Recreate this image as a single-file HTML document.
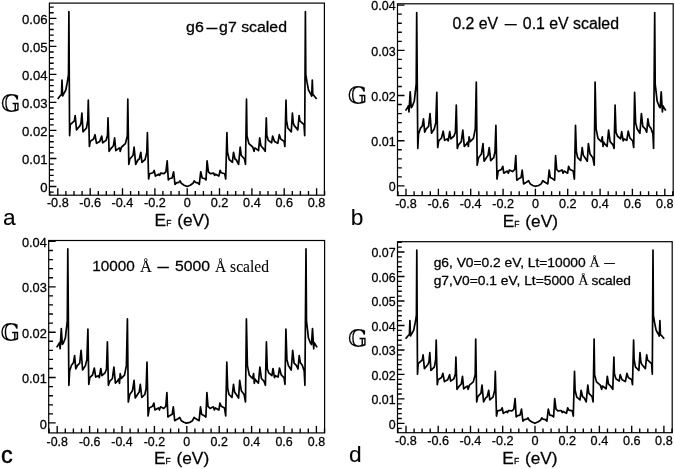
<!DOCTYPE html>
<html><head><meta charset="utf-8"><title>figure</title>
<style>html,body{margin:0;padding:0;background:#fff}body{width:675px;height:469px;position:relative;overflow:hidden}</style></head>
<body>
<svg width="675" height="469" viewBox="0 0 675 469" style="position:absolute;left:0;top:0">
<rect width="675" height="469" fill="#fff"/>
<style>text{stroke:#000;stroke-width:0.28px;stroke-linejoin:round}text.sf,tspan.sf{stroke-width:0.08px}text.pl{stroke-width:0.1px}text.pc{stroke-width:0.5px}</style>
<g id="panel-a">
<rect x="49.4" y="3.1" width="275.0" height="192.1" fill="none" stroke="#000" stroke-width="1.2"/>
<path d="M49.8 195.2v-4.3 M57.8 195.2v-6.9 M65.9 195.2v-4.3 M74.0 195.2v-4.3 M82.1 195.2v-4.3 M90.2 195.2v-6.9 M98.3 195.2v-4.3 M106.3 195.2v-4.3 M114.4 195.2v-4.3 M122.5 195.2v-6.9 M130.6 195.2v-4.3 M138.7 195.2v-4.3 M146.8 195.2v-4.3 M154.9 195.2v-6.9 M162.9 195.2v-4.3 M171.0 195.2v-4.3 M179.1 195.2v-4.3 M187.2 195.2v-6.9 M195.3 195.2v-4.3 M203.4 195.2v-4.3 M211.5 195.2v-4.3 M219.5 195.2v-6.9 M227.6 195.2v-4.3 M235.7 195.2v-4.3 M243.8 195.2v-4.3 M251.9 195.2v-6.9 M260.0 195.2v-4.3 M268.0 195.2v-4.3 M276.1 195.2v-4.3 M284.2 195.2v-6.9 M292.3 195.2v-4.3 M300.4 195.2v-4.3 M308.5 195.2v-4.3 M316.6 195.2v-6.9 M324.6 195.2v-4.3 M49.4 192.1h4.3 M49.4 186.5h7.0 M49.4 180.9h4.3 M49.4 175.3h4.3 M49.4 169.7h4.3 M49.4 164.1h4.3 M49.4 158.5h7.0 M49.4 152.9h4.3 M49.4 147.3h4.3 M49.4 141.7h4.3 M49.4 136.0h4.3 M49.4 130.4h7.0 M49.4 124.8h4.3 M49.4 119.2h4.3 M49.4 113.6h4.3 M49.4 108.0h4.3 M49.4 102.4h7.0 M49.4 96.8h4.3 M49.4 91.2h4.3 M49.4 85.6h4.3 M49.4 80.0h4.3 M49.4 74.4h7.0 M49.4 68.8h4.3 M49.4 63.2h4.3 M49.4 57.6h4.3 M49.4 52.0h4.3 M49.4 46.3h7.0 M49.4 40.7h4.3 M49.4 35.1h4.3 M49.4 29.5h4.3 M49.4 23.9h4.3 M49.4 18.3h7.0 M49.4 12.7h4.3 M49.4 7.1h4.3" stroke="#000" stroke-width="1.35" fill="none"/>
<polyline points="57.7,98.9 60.6,95.2 61.5,94.7 62.0,80.1 62.6,96.0 63.4,94.4 64.0,93.4 65.8,90.0 67.3,82.2 68.5,74.6 68.9,11.7 69.6,135.6 70.3,124.6 74.4,120.8 75.2,115.5 76.5,129.9 80.0,125.6 81.0,123.2 81.9,113.1 83.0,131.8 86.5,128.0 87.8,120.2 88.3,100.2 89.4,146.5 90.2,141.4 93.6,139.0 95.0,134.7 96.5,143.3 99.8,141.4 101.7,136.1 102.7,142.8 106.0,140.4 107.5,135.2 108.0,117.9 109.1,151.4 110.9,148.6 113.4,145.8 114.6,137.9 115.8,150.7 118.7,148.4 119.7,148.0 120.2,151.3 121.6,147.0 125.4,143.6 127.3,136.0 127.8,99.2 128.8,164.3 129.8,159.0 133.1,155.2 134.1,147.0 135.7,164.3 137.9,160.0 139.3,159.0 140.8,152.3 141.9,162.3 145.1,159.5 146.8,152.2 147.4,132.7 148.6,179.0 149.6,173.7 153.0,172.8 154.2,170.4 155.4,176.1 158.7,174.2 159.7,175.3 160.6,173.2 164.0,173.7 165.9,171.8 167.2,160.8 168.3,180.0 169.8,178.5 172.1,178.0 173.6,171.8 175.0,184.3 176.5,182.8 178.9,182.3 180.1,180.9 181.3,183.3 184.1,185.2 187.0,186.5 190.2,185.2 193.0,183.3 194.2,180.9 195.4,182.3 197.8,182.8 199.3,184.3 200.7,171.8 202.2,178.0 204.5,178.5 206.0,180.0 207.1,160.8 208.4,171.8 210.3,173.7 213.7,173.2 214.6,175.3 215.6,174.2 218.9,176.1 220.1,170.4 221.3,172.8 224.7,173.7 225.7,179.0 226.9,132.7 227.5,152.2 229.2,159.5 232.4,162.3 233.5,152.3 235.0,159.0 236.4,160.0 238.6,164.3 240.2,147.0 241.2,155.2 244.5,159.0 245.5,164.3 246.5,99.2 247.0,136.0 248.9,143.6 252.7,147.0 254.1,151.3 254.6,148.0 255.6,148.4 258.5,150.7 259.7,137.9 260.9,145.8 263.4,148.6 265.2,151.4 266.3,117.9 266.8,135.2 268.3,140.4 271.6,142.8 272.6,136.1 274.5,141.4 277.8,143.3 279.3,134.7 280.7,139.0 284.1,141.4 284.9,146.5 286.0,100.2 286.5,120.2 287.8,128.0 291.3,131.8 292.4,113.1 293.3,123.2 294.3,125.6 297.8,129.9 299.1,115.5 299.9,120.8 304.0,124.6 304.7,135.6 305.4,11.7 305.8,74.6 307.0,82.2 308.5,90.0 310.3,93.4 310.9,94.4 311.7,96.0 312.3,80.1 312.8,94.7 313.7,95.2 316.6,98.9" fill="none" stroke="#000" stroke-width="1.7" stroke-linejoin="round" stroke-linecap="butt"/>
<text transform="translate(57.8 207.1) scale(0.99 1)" font-size="12.8" text-anchor="middle" font-family="Liberation Sans, Arial, Helvetica, sans-serif">-0.8</text>
<text transform="translate(90.2 207.1) scale(0.99 1)" font-size="12.8" text-anchor="middle" font-family="Liberation Sans, Arial, Helvetica, sans-serif">-0.6</text>
<text transform="translate(122.5 207.1) scale(0.99 1)" font-size="12.8" text-anchor="middle" font-family="Liberation Sans, Arial, Helvetica, sans-serif">-0.4</text>
<text transform="translate(154.9 207.1) scale(0.99 1)" font-size="12.8" text-anchor="middle" font-family="Liberation Sans, Arial, Helvetica, sans-serif">-0.2</text>
<text transform="translate(187.2 207.1) scale(0.99 1)" font-size="12.8" text-anchor="middle" font-family="Liberation Sans, Arial, Helvetica, sans-serif">0</text>
<text transform="translate(219.5 207.1) scale(0.99 1)" font-size="12.8" text-anchor="middle" font-family="Liberation Sans, Arial, Helvetica, sans-serif">0.2</text>
<text transform="translate(251.9 207.1) scale(0.99 1)" font-size="12.8" text-anchor="middle" font-family="Liberation Sans, Arial, Helvetica, sans-serif">0.4</text>
<text transform="translate(284.2 207.1) scale(0.99 1)" font-size="12.8" text-anchor="middle" font-family="Liberation Sans, Arial, Helvetica, sans-serif">0.6</text>
<text transform="translate(316.6 207.1) scale(0.99 1)" font-size="12.8" text-anchor="middle" font-family="Liberation Sans, Arial, Helvetica, sans-serif">0.8</text>
<text transform="translate(47.5 191.7) scale(1.025 1)" font-size="12.8" text-anchor="end" font-family="Liberation Sans, Arial, Helvetica, sans-serif">0</text>
<text transform="translate(47.5 163.7) scale(1.025 1)" font-size="12.8" text-anchor="end" font-family="Liberation Sans, Arial, Helvetica, sans-serif">0.01</text>
<text transform="translate(47.5 135.6) scale(1.025 1)" font-size="12.8" text-anchor="end" font-family="Liberation Sans, Arial, Helvetica, sans-serif">0.02</text>
<text transform="translate(47.5 107.6) scale(1.025 1)" font-size="12.8" text-anchor="end" font-family="Liberation Sans, Arial, Helvetica, sans-serif">0.03</text>
<text transform="translate(47.5 79.6) scale(1.025 1)" font-size="12.8" text-anchor="end" font-family="Liberation Sans, Arial, Helvetica, sans-serif">0.04</text>
<text transform="translate(47.5 51.5) scale(1.025 1)" font-size="12.8" text-anchor="end" font-family="Liberation Sans, Arial, Helvetica, sans-serif">0.05</text>
<text transform="translate(47.5 23.5) scale(1.025 1)" font-size="12.8" text-anchor="end" font-family="Liberation Sans, Arial, Helvetica, sans-serif">0.06</text>
<text x="154.6" y="226.4" font-size="17.3" font-family="Liberation Sans, Arial, Helvetica, sans-serif">E</text>
<text x="166.2" y="226.4" font-size="8.6" font-family="Liberation Sans, Arial, Helvetica, sans-serif">F</text>
<text x="177.2" y="226.4" font-size="17.3" font-family="Liberation Sans, Arial, Helvetica, sans-serif">(eV)</text>
<text transform="translate(0.0 112.1) scale(0.97 1)" font-size="23.6" class="sf" font-family="DejaVu Math TeX Gyre, DejaVu Serif, DejaVu Sans, serif">𝔾</text>
<text x="3.0" y="224.6" font-size="22.7" class="pl" font-family="Liberation Sans, Arial, Helvetica, sans-serif">a</text>
</g>
<g id="panel-b">
<rect x="397.5" y="3.8" width="275.7" height="191.8" fill="none" stroke="#000" stroke-width="1.2"/>
<path d="M398.0 195.6v-4.3 M406.0 195.6v-6.9 M414.1 195.6v-4.3 M422.2 195.6v-4.3 M430.3 195.6v-4.3 M438.4 195.6v-6.9 M446.5 195.6v-4.3 M454.5 195.6v-4.3 M462.6 195.6v-4.3 M470.7 195.6v-6.9 M478.8 195.6v-4.3 M486.9 195.6v-4.3 M495.0 195.6v-4.3 M503.1 195.6v-6.9 M511.1 195.6v-4.3 M519.2 195.6v-4.3 M527.3 195.6v-4.3 M535.4 195.6v-6.9 M543.5 195.6v-4.3 M551.6 195.6v-4.3 M559.7 195.6v-4.3 M567.7 195.6v-6.9 M575.8 195.6v-4.3 M583.9 195.6v-4.3 M592.0 195.6v-4.3 M600.1 195.6v-6.9 M608.2 195.6v-4.3 M616.2 195.6v-4.3 M624.3 195.6v-4.3 M632.4 195.6v-6.9 M640.5 195.6v-4.3 M648.6 195.6v-4.3 M656.7 195.6v-4.3 M664.8 195.6v-6.9 M672.8 195.6v-4.3 M397.5 185.9h7.0 M397.5 176.9h4.3 M397.5 167.8h4.3 M397.5 158.8h4.3 M397.5 149.7h4.3 M397.5 140.7h7.0 M397.5 131.7h4.3 M397.5 122.6h4.3 M397.5 113.6h4.3 M397.5 104.5h4.3 M397.5 95.5h7.0 M397.5 86.5h4.3 M397.5 77.4h4.3 M397.5 68.4h4.3 M397.5 59.3h4.3 M397.5 50.3h7.0 M397.5 41.3h4.3 M397.5 32.2h4.3 M397.5 23.2h4.3 M397.5 14.1h4.3 M397.5 5.1h7.0" stroke="#000" stroke-width="1.35" fill="none"/>
<polyline points="405.6,110.6 407.4,107.7 408.5,105.8 409.0,112.0 410.2,91.8 411.2,107.7 412.3,106.2 414.3,101.0 415.2,92.8 416.2,84.2 416.7,12.5 417.8,148.5 418.5,134.1 420.4,128.4 422.3,126.0 423.5,118.8 424.7,132.2 426.2,128.8 428.6,126.4 430.0,113.5 431.5,133.2 434.3,128.8 435.8,122.6 436.8,92.3 437.7,147.5 438.7,140.8 441.5,138.0 443.2,131.2 444.6,140.3 447.3,138.9 448.2,140.8 449.7,131.7 450.8,138.9 454.0,136.0 455.4,132.2 456.3,105.1 457.3,148.5 458.6,144.6 461.3,141.7 462.8,130.2 464.3,146.3 466.7,143.8 467.6,142.2 468.4,146.5 469.1,136.9 470.2,141.7 473.4,138.4 475.3,128.8 476.3,82.1 477.2,165.2 478.6,157.7 481.4,153.9 483.0,143.6 484.1,161.2 486.7,157.2 488.1,155.2 489.2,147.5 490.7,160.7 493.7,157.7 495.0,151.8 495.9,125.4 497.0,179.1 498.2,171.1 501.4,169.5 502.8,166.3 503.8,173.2 507.3,171.1 508.3,173.2 509.4,170.0 512.6,171.6 514.7,169.5 515.8,155.7 516.8,180.2 519.0,178.6 521.1,177.5 522.2,170.0 523.6,183.9 526.4,182.3 528.6,180.7 530.2,183.9 532.8,185.5 535.2,186.3 538.6,185.5 541.2,183.9 542.8,180.7 545.0,182.3 547.8,183.9 549.2,170.0 550.3,177.5 552.4,178.6 554.6,180.2 555.6,155.7 556.7,169.5 558.8,171.6 562.0,170.0 563.1,173.2 564.1,171.1 567.6,173.2 568.6,166.3 570.0,169.5 573.2,171.1 574.4,179.1 575.5,125.4 576.4,151.8 577.7,157.7 580.7,160.7 582.2,147.5 583.3,155.2 584.7,157.2 587.3,161.2 588.4,143.6 590.0,153.9 592.8,157.7 594.2,165.2 595.1,82.1 596.1,128.8 598.0,138.4 601.2,141.7 602.3,136.9 603.0,146.5 603.8,142.2 604.7,143.8 607.1,146.3 608.6,130.2 610.1,141.7 612.8,144.6 614.1,148.5 615.1,105.1 616.0,132.2 617.4,136.0 620.6,138.9 621.7,131.7 623.2,140.8 624.1,138.9 626.8,140.3 628.2,131.2 629.9,138.0 632.7,140.8 633.7,147.5 634.6,92.3 635.6,122.6 637.1,128.8 639.9,133.2 641.4,113.5 642.8,126.4 645.2,128.8 646.7,132.2 647.9,118.8 649.1,126.0 651.0,128.4 652.9,134.1 653.6,148.5 654.7,12.5 655.2,84.2 656.2,92.8 657.1,101.0 659.1,106.2 660.2,107.7 661.2,91.8 662.4,112.0 662.9,105.8 664.0,107.7 665.8,110.6" fill="none" stroke="#000" stroke-width="1.7" stroke-linejoin="round" stroke-linecap="butt"/>
<text transform="translate(406.0 208.2) scale(0.985 1)" font-size="12.8" text-anchor="middle" font-family="Liberation Sans, Arial, Helvetica, sans-serif">-0.8</text>
<text transform="translate(438.4 208.2) scale(0.985 1)" font-size="12.8" text-anchor="middle" font-family="Liberation Sans, Arial, Helvetica, sans-serif">-0.6</text>
<text transform="translate(470.7 208.2) scale(0.985 1)" font-size="12.8" text-anchor="middle" font-family="Liberation Sans, Arial, Helvetica, sans-serif">-0.4</text>
<text transform="translate(503.1 208.2) scale(0.985 1)" font-size="12.8" text-anchor="middle" font-family="Liberation Sans, Arial, Helvetica, sans-serif">-0.2</text>
<text transform="translate(535.4 208.2) scale(0.985 1)" font-size="12.8" text-anchor="middle" font-family="Liberation Sans, Arial, Helvetica, sans-serif">0</text>
<text transform="translate(567.7 208.2) scale(0.985 1)" font-size="12.8" text-anchor="middle" font-family="Liberation Sans, Arial, Helvetica, sans-serif">0.2</text>
<text transform="translate(600.1 208.2) scale(0.985 1)" font-size="12.8" text-anchor="middle" font-family="Liberation Sans, Arial, Helvetica, sans-serif">0.4</text>
<text transform="translate(632.4 208.2) scale(0.985 1)" font-size="12.8" text-anchor="middle" font-family="Liberation Sans, Arial, Helvetica, sans-serif">0.6</text>
<text transform="translate(664.8 208.2) scale(0.985 1)" font-size="12.8" text-anchor="middle" font-family="Liberation Sans, Arial, Helvetica, sans-serif">0.8</text>
<text transform="translate(395.6 191.2) scale(0.975 1)" font-size="12.8" text-anchor="end" font-family="Liberation Sans, Arial, Helvetica, sans-serif">0</text>
<text transform="translate(395.6 146.0) scale(0.975 1)" font-size="12.8" text-anchor="end" font-family="Liberation Sans, Arial, Helvetica, sans-serif">0.01</text>
<text transform="translate(395.6 100.8) scale(0.975 1)" font-size="12.8" text-anchor="end" font-family="Liberation Sans, Arial, Helvetica, sans-serif">0.02</text>
<text transform="translate(395.6 55.6) scale(0.975 1)" font-size="12.8" text-anchor="end" font-family="Liberation Sans, Arial, Helvetica, sans-serif">0.03</text>
<text transform="translate(395.6 10.4) scale(0.975 1)" font-size="12.8" text-anchor="end" font-family="Liberation Sans, Arial, Helvetica, sans-serif">0.04</text>
<text x="502.7" y="226.8" font-size="17.3" font-family="Liberation Sans, Arial, Helvetica, sans-serif">E</text>
<text x="514.3" y="226.8" font-size="8.6" font-family="Liberation Sans, Arial, Helvetica, sans-serif">F</text>
<text x="525.3" y="226.8" font-size="17.3" font-family="Liberation Sans, Arial, Helvetica, sans-serif">(eV)</text>
<text transform="translate(346.7 103.7) scale(0.97 1)" font-size="23.6" class="sf" font-family="DejaVu Math TeX Gyre, DejaVu Serif, DejaVu Sans, serif">𝔾</text>
<text x="350.7" y="225.2" font-size="22.7" class="pl" font-family="Liberation Sans, Arial, Helvetica, sans-serif">b</text>
</g>
<g id="panel-c">
<rect x="48.7" y="240.5" width="275.9" height="192.4" fill="none" stroke="#000" stroke-width="1.2"/>
<path d="M49.1 432.9v-4.3 M57.2 432.9v-6.9 M65.3 432.9v-4.3 M73.4 432.9v-4.3 M81.5 432.9v-4.3 M89.6 432.9v-6.9 M97.7 432.9v-4.3 M105.8 432.9v-4.3 M113.9 432.9v-4.3 M122.0 432.9v-6.9 M130.1 432.9v-4.3 M138.2 432.9v-4.3 M146.3 432.9v-4.3 M154.4 432.9v-6.9 M162.5 432.9v-4.3 M170.6 432.9v-4.3 M178.7 432.9v-4.3 M186.8 432.9v-6.9 M194.9 432.9v-4.3 M203.0 432.9v-4.3 M211.1 432.9v-4.3 M219.2 432.9v-6.9 M227.3 432.9v-4.3 M235.4 432.9v-4.3 M243.5 432.9v-4.3 M251.6 432.9v-6.9 M259.7 432.9v-4.3 M267.8 432.9v-4.3 M275.9 432.9v-4.3 M284.0 432.9v-6.9 M292.1 432.9v-4.3 M300.2 432.9v-4.3 M308.3 432.9v-4.3 M316.4 432.9v-6.9 M324.5 432.9v-4.3 M48.7 422.9h7.0 M48.7 413.8h4.3 M48.7 404.8h4.3 M48.7 395.7h4.3 M48.7 386.6h4.3 M48.7 377.5h7.0 M48.7 368.5h4.3 M48.7 359.4h4.3 M48.7 350.3h4.3 M48.7 341.2h4.3 M48.7 332.2h7.0 M48.7 323.1h4.3 M48.7 314.0h4.3 M48.7 304.9h4.3 M48.7 295.9h4.3 M48.7 286.8h7.0 M48.7 277.7h4.3 M48.7 268.6h4.3 M48.7 259.6h4.3 M48.7 250.5h4.3 M48.7 241.4h7.0" stroke="#000" stroke-width="1.35" fill="none"/>
<polyline points="56.7,347.4 58.5,344.5 59.6,342.6 60.1,348.8 61.3,328.6 62.3,344.5 63.4,343.0 65.4,337.8 66.3,329.6 67.3,321.0 67.8,248.9 68.9,385.3 69.6,370.9 71.5,365.2 73.4,362.8 74.6,355.6 75.8,369.0 77.3,365.6 79.7,363.2 81.1,350.3 82.6,370.0 85.4,365.6 86.9,359.4 87.9,329.1 88.8,384.3 89.8,377.6 92.6,374.8 94.3,368.0 95.7,377.1 98.4,375.7 99.3,377.6 100.8,368.5 101.9,375.7 105.1,372.8 106.5,369.0 107.4,341.9 108.4,385.3 109.7,381.4 112.4,378.5 113.9,367.0 115.4,383.1 117.8,380.6 118.7,379.0 119.5,383.3 120.2,373.7 121.3,378.5 124.5,375.2 126.4,365.6 127.4,318.9 128.3,402.0 129.7,394.5 132.5,390.7 134.1,380.4 135.2,398.0 137.8,394.0 139.2,392.0 140.3,384.3 141.8,397.5 144.8,394.5 146.1,388.6 147.0,362.2 148.1,415.9 149.3,407.9 152.5,406.3 153.9,403.1 154.9,410.0 158.4,407.9 159.4,410.0 160.5,406.8 163.7,408.4 165.8,406.3 166.9,392.5 167.9,417.0 170.1,415.4 172.2,414.3 173.3,406.8 174.7,420.7 177.5,419.1 179.7,417.5 181.3,420.7 183.9,422.3 186.3,423.1 189.9,422.3 192.5,420.7 194.1,417.5 196.3,419.1 199.1,420.7 200.5,406.8 201.6,414.3 203.7,415.4 205.9,417.0 206.9,392.5 208.0,406.3 210.1,408.4 213.3,406.8 214.4,410.0 215.4,407.9 218.9,410.0 219.9,403.1 221.3,406.3 224.5,407.9 225.7,415.9 226.8,362.2 227.7,388.6 229.0,394.5 232.0,397.5 233.5,384.3 234.6,392.0 236.0,394.0 238.6,398.0 239.7,380.4 241.3,390.7 244.1,394.5 245.5,402.0 246.4,318.9 247.4,365.6 249.3,375.2 252.5,378.5 253.6,373.7 254.3,383.3 255.1,379.0 256.0,380.6 258.4,383.1 259.9,367.0 261.4,378.5 264.1,381.4 265.4,385.3 266.4,341.9 267.3,369.0 268.7,372.8 271.9,375.7 273.0,368.5 274.5,377.6 275.4,375.7 278.1,377.1 279.5,368.0 281.2,374.8 284.0,377.6 285.0,384.3 285.9,329.1 286.9,359.4 288.4,365.6 291.2,370.0 292.7,350.3 294.1,363.2 296.5,365.6 298.0,369.0 299.2,355.6 300.4,362.8 302.3,365.2 304.2,370.9 304.9,385.3 306.0,248.9 306.5,321.0 307.5,329.6 308.4,337.8 310.4,343.0 311.5,344.5 312.5,328.6 313.7,348.8 314.2,342.6 315.3,344.5 317.1,347.4" fill="none" stroke="#000" stroke-width="1.7" stroke-linejoin="round" stroke-linecap="butt"/>
<text transform="translate(57.2 445.8) scale(0.97 1)" font-size="12.8" text-anchor="middle" font-family="Liberation Sans, Arial, Helvetica, sans-serif">-0.8</text>
<text transform="translate(89.6 445.8) scale(0.97 1)" font-size="12.8" text-anchor="middle" font-family="Liberation Sans, Arial, Helvetica, sans-serif">-0.6</text>
<text transform="translate(122.0 445.8) scale(0.97 1)" font-size="12.8" text-anchor="middle" font-family="Liberation Sans, Arial, Helvetica, sans-serif">-0.4</text>
<text transform="translate(154.4 445.8) scale(0.97 1)" font-size="12.8" text-anchor="middle" font-family="Liberation Sans, Arial, Helvetica, sans-serif">-0.2</text>
<text transform="translate(186.8 445.8) scale(0.97 1)" font-size="12.8" text-anchor="middle" font-family="Liberation Sans, Arial, Helvetica, sans-serif">0</text>
<text transform="translate(219.2 445.8) scale(0.97 1)" font-size="12.8" text-anchor="middle" font-family="Liberation Sans, Arial, Helvetica, sans-serif">0.2</text>
<text transform="translate(251.6 445.8) scale(0.97 1)" font-size="12.8" text-anchor="middle" font-family="Liberation Sans, Arial, Helvetica, sans-serif">0.4</text>
<text transform="translate(284.0 445.8) scale(0.97 1)" font-size="12.8" text-anchor="middle" font-family="Liberation Sans, Arial, Helvetica, sans-serif">0.6</text>
<text transform="translate(316.4 445.8) scale(0.97 1)" font-size="12.8" text-anchor="middle" font-family="Liberation Sans, Arial, Helvetica, sans-serif">0.8</text>
<text transform="translate(46.8 428.5) scale(1.0 1)" font-size="12.8" text-anchor="end" font-family="Liberation Sans, Arial, Helvetica, sans-serif">0</text>
<text transform="translate(46.8 383.1) scale(1.0 1)" font-size="12.8" text-anchor="end" font-family="Liberation Sans, Arial, Helvetica, sans-serif">0.01</text>
<text transform="translate(46.8 337.8) scale(1.0 1)" font-size="12.8" text-anchor="end" font-family="Liberation Sans, Arial, Helvetica, sans-serif">0.02</text>
<text transform="translate(46.8 292.4) scale(1.0 1)" font-size="12.8" text-anchor="end" font-family="Liberation Sans, Arial, Helvetica, sans-serif">0.03</text>
<text transform="translate(46.8 247.0) scale(1.0 1)" font-size="12.8" text-anchor="end" font-family="Liberation Sans, Arial, Helvetica, sans-serif">0.04</text>
<text x="153.9" y="464.2" font-size="17.3" font-family="Liberation Sans, Arial, Helvetica, sans-serif">E</text>
<text x="165.5" y="464.2" font-size="8.6" font-family="Liberation Sans, Arial, Helvetica, sans-serif">F</text>
<text x="176.5" y="464.2" font-size="17.3" font-family="Liberation Sans, Arial, Helvetica, sans-serif">(eV)</text>
<text transform="translate(-0.5 341.0) scale(0.97 1)" font-size="23.6" class="sf" font-family="DejaVu Math TeX Gyre, DejaVu Serif, DejaVu Sans, serif">𝔾</text>
<text x="1.0" y="462.5" font-size="23.4" class="pc" font-family="Liberation Sans, Arial, Helvetica, sans-serif">c</text>
</g>
<g id="panel-d">
<rect x="397.5" y="241.7" width="274.7" height="191.0" fill="none" stroke="#000" stroke-width="1.2"/>
<path d="M397.9 432.7v-4.3 M406.0 432.7v-6.9 M414.1 432.7v-4.3 M422.1 432.7v-4.3 M430.2 432.7v-4.3 M438.2 432.7v-6.9 M446.3 432.7v-4.3 M454.4 432.7v-4.3 M462.4 432.7v-4.3 M470.5 432.7v-6.9 M478.5 432.7v-4.3 M486.6 432.7v-4.3 M494.7 432.7v-4.3 M502.7 432.7v-6.9 M510.8 432.7v-4.3 M518.8 432.7v-4.3 M526.9 432.7v-4.3 M535.0 432.7v-6.9 M543.0 432.7v-4.3 M551.1 432.7v-4.3 M559.1 432.7v-4.3 M567.2 432.7v-6.9 M575.2 432.7v-4.3 M583.3 432.7v-4.3 M591.4 432.7v-4.3 M599.4 432.7v-6.9 M607.5 432.7v-4.3 M615.6 432.7v-4.3 M623.6 432.7v-4.3 M631.7 432.7v-6.9 M639.7 432.7v-4.3 M647.8 432.7v-4.3 M655.9 432.7v-4.3 M663.9 432.7v-6.9 M672.0 432.7v-4.3 M397.5 428.3h4.3 M397.5 423.4h7.0 M397.5 418.5h4.3 M397.5 413.6h4.3 M397.5 408.7h4.3 M397.5 403.8h4.3 M397.5 398.9h7.0 M397.5 394.0h4.3 M397.5 389.1h4.3 M397.5 384.2h4.3 M397.5 379.3h4.3 M397.5 374.4h7.0 M397.5 369.5h4.3 M397.5 364.6h4.3 M397.5 359.8h4.3 M397.5 354.9h4.3 M397.5 350.0h7.0 M397.5 345.1h4.3 M397.5 340.2h4.3 M397.5 335.3h4.3 M397.5 330.4h4.3 M397.5 325.5h7.0 M397.5 320.6h4.3 M397.5 315.7h4.3 M397.5 310.8h4.3 M397.5 305.9h4.3 M397.5 301.0h7.0 M397.5 296.1h4.3 M397.5 291.2h4.3 M397.5 286.3h4.3 M397.5 281.4h4.3 M397.5 276.5h7.0 M397.5 271.6h4.3 M397.5 266.7h4.3 M397.5 261.8h4.3 M397.5 256.9h4.3 M397.5 252.0h7.0 M397.5 247.1h4.3 M397.5 242.2h4.3" stroke="#000" stroke-width="1.35" fill="none"/>
<polyline points="405.6,338.8 408.5,335.2 409.4,334.7 409.9,320.6 410.5,336.0 411.3,334.4 411.9,333.5 413.7,330.2 415.2,322.7 416.4,315.3 416.8,250.0 417.5,374.2 418.2,363.6 422.3,359.9 423.1,354.8 424.4,368.7 427.9,364.5 428.9,362.2 429.8,352.5 430.9,370.5 434.4,366.8 435.7,359.3 436.2,340.0 437.3,384.7 438.1,379.8 441.5,377.5 442.9,373.3 444.4,381.6 447.7,379.8 449.6,374.7 450.6,381.1 453.9,378.8 455.4,373.8 455.9,357.1 457.0,389.4 458.8,386.7 461.3,384.0 462.5,376.4 463.7,388.8 466.6,386.5 467.6,386.1 468.1,389.3 469.5,385.2 473.3,381.9 475.2,374.6 475.7,339.1 476.7,401.9 477.7,396.8 481.0,393.1 482.0,385.2 483.6,401.9 485.8,397.7 487.2,396.8 488.7,390.3 489.8,399.9 493.0,397.2 494.7,390.2 495.3,371.4 496.5,416.1 497.5,410.9 500.9,410.1 502.1,407.8 503.3,413.3 506.6,411.4 507.6,412.5 508.5,410.5 511.9,410.9 513.8,409.1 515.1,398.5 516.2,417.0 517.7,415.6 520.0,415.1 521.5,409.1 522.9,421.2 524.4,419.7 526.8,419.2 528.0,417.9 529.2,420.2 532.0,422.0 534.9,423.3 537.8,422.0 540.6,420.2 541.8,417.9 543.0,419.2 545.4,419.7 546.9,421.2 548.3,409.1 549.8,415.1 552.1,415.6 553.6,417.0 554.7,398.5 556.0,409.1 557.9,410.9 561.3,410.5 562.2,412.5 563.2,411.4 566.5,413.3 567.7,407.8 568.9,410.1 572.3,410.9 573.3,416.1 574.5,371.4 575.1,390.2 576.8,397.2 580.0,399.9 581.1,390.3 582.6,396.8 584.0,397.7 586.2,401.9 587.8,385.2 588.8,393.1 592.1,396.8 593.1,401.9 594.1,339.1 594.6,374.6 596.5,381.9 600.3,385.2 601.7,389.3 602.2,386.1 603.2,386.5 606.1,388.8 607.3,376.4 608.5,384.0 611.0,386.7 612.8,389.4 613.9,357.1 614.4,373.8 615.9,378.8 619.2,381.1 620.2,374.7 622.1,379.8 625.4,381.6 626.9,373.3 628.3,377.5 631.7,379.8 632.5,384.7 633.6,340.0 634.1,359.3 635.4,366.8 638.9,370.5 640.0,352.5 640.9,362.2 641.9,364.5 645.4,368.7 646.7,354.8 647.5,359.9 651.6,363.6 652.3,374.2 653.0,250.0 653.4,315.3 654.6,322.7 656.1,330.2 657.9,333.5 658.5,334.4 659.3,336.0 659.9,320.6 660.4,334.7 661.3,335.2 664.2,338.8" fill="none" stroke="#000" stroke-width="1.7" stroke-linejoin="round" stroke-linecap="butt"/>
<text transform="translate(406.0 445.4) scale(0.99 1)" font-size="12.8" text-anchor="middle" font-family="Liberation Sans, Arial, Helvetica, sans-serif">-0.8</text>
<text transform="translate(438.2 445.4) scale(0.99 1)" font-size="12.8" text-anchor="middle" font-family="Liberation Sans, Arial, Helvetica, sans-serif">-0.6</text>
<text transform="translate(470.5 445.4) scale(0.99 1)" font-size="12.8" text-anchor="middle" font-family="Liberation Sans, Arial, Helvetica, sans-serif">-0.4</text>
<text transform="translate(502.7 445.4) scale(0.99 1)" font-size="12.8" text-anchor="middle" font-family="Liberation Sans, Arial, Helvetica, sans-serif">-0.2</text>
<text transform="translate(535.0 445.4) scale(0.99 1)" font-size="12.8" text-anchor="middle" font-family="Liberation Sans, Arial, Helvetica, sans-serif">0</text>
<text transform="translate(567.2 445.4) scale(0.99 1)" font-size="12.8" text-anchor="middle" font-family="Liberation Sans, Arial, Helvetica, sans-serif">0.2</text>
<text transform="translate(599.4 445.4) scale(0.99 1)" font-size="12.8" text-anchor="middle" font-family="Liberation Sans, Arial, Helvetica, sans-serif">0.4</text>
<text transform="translate(631.7 445.4) scale(0.99 1)" font-size="12.8" text-anchor="middle" font-family="Liberation Sans, Arial, Helvetica, sans-serif">0.6</text>
<text transform="translate(663.9 445.4) scale(0.99 1)" font-size="12.8" text-anchor="middle" font-family="Liberation Sans, Arial, Helvetica, sans-serif">0.8</text>
<text transform="translate(395.6 428.6) scale(0.97 1)" font-size="12.8" text-anchor="end" font-family="Liberation Sans, Arial, Helvetica, sans-serif">0</text>
<text transform="translate(395.6 404.1) scale(0.97 1)" font-size="12.8" text-anchor="end" font-family="Liberation Sans, Arial, Helvetica, sans-serif">0.01</text>
<text transform="translate(395.6 379.6) scale(0.97 1)" font-size="12.8" text-anchor="end" font-family="Liberation Sans, Arial, Helvetica, sans-serif">0.02</text>
<text transform="translate(395.6 355.2) scale(0.97 1)" font-size="12.8" text-anchor="end" font-family="Liberation Sans, Arial, Helvetica, sans-serif">0.03</text>
<text transform="translate(395.6 330.7) scale(0.97 1)" font-size="12.8" text-anchor="end" font-family="Liberation Sans, Arial, Helvetica, sans-serif">0.04</text>
<text transform="translate(395.6 306.2) scale(0.97 1)" font-size="12.8" text-anchor="end" font-family="Liberation Sans, Arial, Helvetica, sans-serif">0.05</text>
<text transform="translate(395.6 281.7) scale(0.97 1)" font-size="12.8" text-anchor="end" font-family="Liberation Sans, Arial, Helvetica, sans-serif">0.06</text>
<text transform="translate(395.6 257.2) scale(0.97 1)" font-size="12.8" text-anchor="end" font-family="Liberation Sans, Arial, Helvetica, sans-serif">0.07</text>
<text x="502.3" y="464.0" font-size="17.3" font-family="Liberation Sans, Arial, Helvetica, sans-serif">E</text>
<text x="513.9" y="464.0" font-size="8.6" font-family="Liberation Sans, Arial, Helvetica, sans-serif">F</text>
<text x="524.9" y="464.0" font-size="17.3" font-family="Liberation Sans, Arial, Helvetica, sans-serif">(eV)</text>
<text transform="translate(347.0 347.3) scale(0.97 1)" font-size="23.6" class="sf" font-family="DejaVu Math TeX Gyre, DejaVu Serif, DejaVu Sans, serif">𝔾</text>
<text x="348.9" y="461.6" font-size="22.7" class="pl" font-family="Liberation Sans, Arial, Helvetica, sans-serif">d</text>
</g>
<text x="186.0" y="32.2" font-size="15.3" textLength="17.8" lengthAdjust="spacingAndGlyphs" font-family="Liberation Sans, Arial, Helvetica, sans-serif">g6</text>
<text x="206.4" y="32.2" font-size="15.3" textLength="10.8" lengthAdjust="spacingAndGlyphs" font-family="Liberation Sans, Arial, Helvetica, sans-serif">—</text>
<text x="219.1" y="32.2" font-size="15.3" textLength="67.9" lengthAdjust="spacingAndGlyphs" font-family="Liberation Sans, Arial, Helvetica, sans-serif">g7 scaled</text>
<text x="452.4" y="29.4" font-size="15.6" textLength="45.7" lengthAdjust="spacingAndGlyphs" font-family="Liberation Sans, Arial, Helvetica, sans-serif">0.2 eV</text>
<text x="504.7" y="29.4" font-size="15.6" textLength="11.9" lengthAdjust="spacingAndGlyphs" font-family="Liberation Sans, Arial, Helvetica, sans-serif">—</text>
<text x="522.8" y="29.4" font-size="15.6" textLength="96.2" lengthAdjust="spacingAndGlyphs" font-family="Liberation Sans, Arial, Helvetica, sans-serif">0.1 eV scaled</text>
<text x="92.2" y="271.3" font-size="15.3" textLength="42.6" lengthAdjust="spacingAndGlyphs" font-family="Liberation Sans, Arial, Helvetica, sans-serif">10000</text>
<text x="140.0" y="271.5" font-size="16.4" class="sf" font-family="Liberation Serif, Times New Roman, serif">Å</text>
<text x="157.6" y="271.3" font-size="15.3" textLength="11.3" lengthAdjust="spacingAndGlyphs" font-family="Liberation Sans, Arial, Helvetica, sans-serif">—</text>
<text x="175.0" y="271.3" font-size="15.3" textLength="35.0" lengthAdjust="spacingAndGlyphs" font-family="Liberation Sans, Arial, Helvetica, sans-serif">5000</text>
<text x="215.0" y="271.5" font-size="16.4" textLength="54.0" lengthAdjust="spacingAndGlyphs" class="sf" font-family="Liberation Serif, Times New Roman, serif">Å scaled</text>
<text x="433.7" y="266.8" font-size="13.0" textLength="152.0" lengthAdjust="spacingAndGlyphs" font-family="Liberation Sans, Arial, Helvetica, sans-serif">g6, V0=0.2 eV, Lt=10000</text>
<text x="589.6" y="266.8" font-size="14.2" class="sf" font-family="Liberation Serif, Times New Roman, serif">Å</text>
<text x="604.2" y="266.8" font-size="13.0" textLength="10.5" lengthAdjust="spacingAndGlyphs" font-family="Liberation Sans, Arial, Helvetica, sans-serif">—</text>
<text x="433.7" y="284.5" font-size="13.0" textLength="140.8" lengthAdjust="spacingAndGlyphs" font-family="Liberation Sans, Arial, Helvetica, sans-serif">g7,V0=0.1 eV, Lt=5000</text>
<text x="578.2" y="284.5" font-size="14.2" class="sf" font-family="Liberation Serif, Times New Roman, serif">Å</text>
<text x="591.4" y="284.5" font-size="13.2" textLength="39.6" lengthAdjust="spacingAndGlyphs" font-family="Liberation Sans, Arial, Helvetica, sans-serif">scaled</text>
</svg>
</body></html>
